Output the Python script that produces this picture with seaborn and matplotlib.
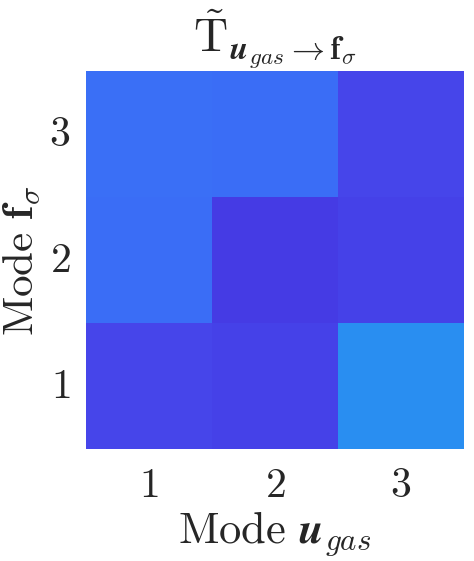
import matplotlib
matplotlib.use("Agg")
import matplotlib.pyplot as plt
import pandas as pd
import seaborn as sns
from matplotlib.colors import LinearSegmentedColormap

# transfer values, rows = mode f_sigma (top to bottom 3,2,1), cols = mode u_gas 1..3
modes_f = [3, 2, 1]
modes_u = [1, 2, 3]
row_f3 = [0.195, 0.190, 0.090]
row_f2 = [0.190, 0.070, 0.085]
row_f1 = [0.090, 0.085, 0.270]

# rough parula approximation
parula = LinearSegmentedColormap.from_list("parula", [
    (0.000, (0.2422, 0.1504, 0.6603)),
    (0.060, (0.2680, 0.2220, 0.8850)),
    (0.125, (0.2810, 0.3228, 0.9579)),
    (0.250, (0.1786, 0.5289, 0.9682)),
    (0.375, (0.0689, 0.6948, 0.8394)),
    (0.500, (0.2161, 0.7843, 0.5923)),
    (0.625, (0.6720, 0.7793, 0.2227)),
    (0.750, (0.9970, 0.7659, 0.2199)),
    (0.875, (0.9606, 0.8963, 0.1426)),
    (1.000, (0.9769, 0.9839, 0.0805)),
])

def main():
    sns.set_style("white")
    plt.rcParams["font.family"] = ["DejaVu Serif"]
    plt.rcParams["mathtext.fontset"] = "cm"

    df = pd.DataFrame([row_f3, row_f2, row_f1], index=modes_f, columns=modes_u)

    fig = plt.figure(figsize=(4.74, 5.61), dpi=100)
    ax = fig.add_axes([0.181, 0.1996, 0.798, 0.6734])
    sns.heatmap(df, cmap=parula, vmin=0, vmax=1, cbar=False, ax=ax)

    ax.set_xticklabels([f"${m}$" for m in modes_u], rotation=0, fontsize=30)
    ax.set_yticklabels([f"${m}$" for m in modes_f], rotation=0, fontsize=30)
    ax.tick_params(axis="both", direction="in", length=5, color="#888888", pad=11)
    ax.set_xlabel(r"$\mathrm{Mode}\ \mathbfit{u}_{gas}$", fontsize=32, labelpad=2)
    ax.set_ylabel(r"$\mathrm{Mode}\ \mathbf{f}_{\sigma}$", fontsize=31)
    ax.yaxis.set_label_coords(-0.115, 0.5)
    ax.set_title(r"$\tilde{\mathrm{T}}_{\mathbfit{u}_{gas}\rightarrow\mathbf{f}_{\sigma}}$",
                 fontsize=34, pad=15)

    fig.savefig("out.png", dpi=100)


if __name__ == "__main__":
    main()
